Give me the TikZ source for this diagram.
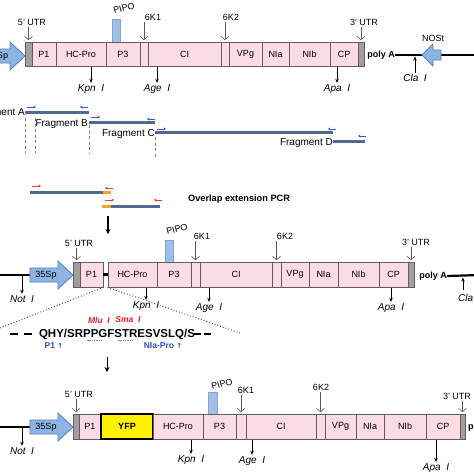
\documentclass[tikz,border=0pt]{standalone}
\usepackage{fontspec}
\setmainfont{Liberation Sans}
\newfontfamily\symfont{DejaVu Sans}
\usetikzlibrary{arrows.meta}
\definecolor{pinkbox}{RGB}{250,220,226}
\definecolor{boxline}{RGB}{105,88,92}
\definecolor{utrgray}{RGB}{160,160,160}
\definecolor{promblue}{RGB}{141,180,226}
\definecolor{promedge}{RGB}{79,129,189}
\definecolor{fragblue}{RGB}{80,105,145}
\definecolor{primerblue}{RGB}{60,90,200}
\definecolor{primerred}{RGB}{230,60,40}
\definecolor{ovorange}{RGB}{240,165,50}
\definecolor{seqred}{RGB}{225,30,30}
\definecolor{seqblue}{RGB}{50,80,180}
\newcommand\genebox[7][]{%
  \node[segbox,#1,minimum width={#4-#3},minimum height={#6-#5}] (#2) at ({(#3+#4)/2},{(#5+#6)/2}) {#7};}
\newcommand\promoter[5][2]{%
  \draw[promo] (#3,#5-7) -- (#4-15,#5-7) -- (#4-15,#5-14) -- (#4,#5) -- (#4-15,#5+14) -- (#4-15,#5+7) -- (#3,#5+7) -- cycle;
  \node[prtext] (#2) at ({(#3+#4-15)/2+#1},#5) {35Sp};}
\begin{document}
\begin{tikzpicture}[x=1pt,y=-1pt,
  segbox/.style={draw=boxline,line width=0.7pt,fill=pinkbox,inner sep=0pt,font=\fontsize{9}{10}\selectfont},
  utrbox/.style={fill=utrgray},
  yfpbox/.style={fill=yellow,draw=black,line width=1.2pt,font=\bfseries\fontsize{9}{10}\selectfont},
  pipobox/.style={draw=promedge!70,line width=0.4pt,fill=promblue!85,inner sep=0pt},
  tagtext/.style={inner sep=0pt,font=\fontsize{9}{10}\selectfont},
  tagarrow/.style={draw=black!65,line width=0.6pt,-{Straight Barb[length=3.5pt,width=8pt]},shorten <=2pt,shorten >=1.5pt},
  cuttext/.style={inner sep=0pt,font=\itshape\fontsize{10}{11}\selectfont},
  cutarrow/.style={draw=black,line width=0.7pt,-{Stealth[length=4pt,width=3.5pt]},shorten <=1pt,shorten >=1.5pt},
  backbone/.style={draw=black,line width=2.2pt},
  promo/.style={draw=promedge,line width=0.8pt,fill=promblue},
  prtext/.style={inner sep=0pt,font=\fontsize{9}{10}\selectfont},
  polytext/.style={inner sep=0pt,font=\bfseries\fontsize{9}{10}\selectfont},
  fragbar/.style={draw=fragblue,line width=3pt},
  orbar/.style={draw=ovorange,line width=3pt},
  fragtext/.style={inner sep=0pt,font=\fontsize{10}{11}\selectfont},
  guide/.style={draw=black!50,line width=1pt,dash pattern=on 3pt off 2.5pt},
  primerB/.style={draw=primerblue,line width=0.8pt,-{Stealth[length=2.5pt,width=3pt]}},
  primerR/.style={draw=primerred,line width=0.8pt,-{Stealth[length=2.5pt,width=3pt]}},
  bigarrow/.style={draw=black,line width=1.1pt,-{Stealth[length=5pt,width=5pt]}},
  zoomline/.style={draw=black!75,line width=0.9pt,dotted},
  seqdash/.style={draw=black,line width=2.5pt},
  siteline/.style={draw=black!45,line width=0.8pt,dash pattern=on 1.5pt off 0.8pt},
  enzred/.style={inner sep=0pt,text=seqred,font=\bfseries\itshape\fontsize{8.5}{9}\selectfont},
  cleave/.style={inner sep=0pt,text=seqblue,font=\bfseries\fontsize{8.5}{9}\selectfont}
]
\useasboundingbox (0,0) rectangle (474,474);
\clip (0,0) rectangle (474,474);
\fill[white] (0,0) rectangle (474,474);

% ================= construct 1 =================
\node[pipobox,minimum width=8,minimum height=23] (pipoA) at (116,31) {};
\node[tagtext,rotate=15] (pipoAt) at (124,8) {PIPO};
\promoter[5]{prA}{-25}{25}{56}
\genebox[utrbox]{uA}{25}{32}{42}{66}{}
\genebox{p1A}{32}{56}{42}{66}{P1}
\genebox{hcA}{56}{106}{42}{66}{HC-Pro}
\genebox{p3A}{106}{140}{42}{66}{P3}
\genebox{k1A}{140}{148}{42}{66}{}
\genebox{ciA}{148}{221}{42}{66}{CI}
\genebox{k2A}{221}{229}{42}{66}{}
\genebox{vpgA}{229}{262}{42}{66}{VPg}
\genebox{niaA}{262}{289}{42}{66}{NIa}
\genebox{nibA}{289}{330}{42}{66}{NIb}
\genebox{cpA}{330}{358}{42}{66}{CP}
\genebox[utrbox]{u3A}{358}{364}{42}{66}{}
\node[tagtext] (t5A) at (32,22) {5' UTR};
\draw[tagarrow] (t5A.south -| uA.north) -- (uA.north);
\node[tagtext] (t6k1A) at (153,17) {6K1};
\draw[tagarrow] (t6k1A.south -| k1A.north) -- (k1A.north);
\node[tagtext] (t6k2A) at (231,17) {6K2};
\draw[tagarrow] (t6k2A.south -| k2A.north) -- (k2A.north);
\node[tagtext] (t3A) at (364,22) {3' UTR};
\draw[tagarrow] (t3A.south -| u3A.north) -- (u3A.north);
\node[cuttext] (kpnA) at (91,89) {Kpn\ \ I};
\draw[cutarrow] (hcA.south -| kpnA.north) -- (kpnA.north);
\node[cuttext] (ageA) at (157,89) {Age\ \ I};
\draw[cutarrow] (ciA.south -| ageA.north) -- (ageA.north);
\node[cuttext] (apaA) at (337,89) {Apa\ \ I};
\draw[cutarrow] (cpA.south -| apaA.north) -- (apaA.north);
\node[polytext] (paA) at (381,55) {poly A};
\coordinate (nosTipA) at (422,55);
\coordinate (nosTailA) at (441,55);
\draw[backbone] (paA.east) -- (nosTipA);
\draw[backbone] (nosTailA) -- (480,55);
\draw[promo] (441,50) -- (433,50) -- (433,44) -- (nosTipA) -- (433,66) -- (433,60) -- (441,60) -- cycle;
\node[tagtext] (nosA) at (433,38) {NOSt};
\node[cuttext] (claA) at (415,78) {Cla\ \ I};
\draw[cutarrow] (claA.north) -- (claA.north |- nosTipA);

% ================= fragments =================
\coordinate (fa1) at (25,112); \coordinate (fa2) at (89,112);
\coordinate (fb1) at (89,122); \coordinate (fb2) at (155,122);
\coordinate (fc1) at (155,132.5); \coordinate (fc2) at (333,132.5);
\coordinate (fd1) at (333,141); \coordinate (fd2) at (365,141);
\draw[fragbar] (fa1) -- (fa2);
\draw[fragbar] (fb1) -- (fb2);
\draw[fragbar] (fc1) -- (fc2);
\draw[fragbar] (fd1) -- (fd2);
\node[fragtext,anchor=east] (faT) at (25,113) {Fragment A};
\node[fragtext,anchor=east] (fbT) at (88,124) {Fragment B};
\node[fragtext,anchor=east] (fcT) at (155,134) {Fragment C};
\node[fragtext,anchor=east] (fdT) at (333,143) {Fragment D};
\draw[primerB] (27,107) -- (36,107);
\draw[primerB] (88,107) -- (80,107);
\draw[primerB] (91,117) -- (100,117);
\draw[primerB] (155,119) -- (147,119);
\draw[primerB] (157,129) -- (166,129);
\draw[primerB] (336,129) -- (328,129);
\draw[primerB] (366,136) -- (358,136);
\draw[guide] (25,118) -- (25,153);
\draw[guide] (35,118) -- (35,153);
\draw[guide] (89,125) -- (89,153);
\draw[guide] (155,137) -- (155,157);

% ================= overlap PCR =================
\coordinate (o1a) at (30,192); \coordinate (o1b) at (103,192); \coordinate (o1c) at (111,192);
\coordinate (o2a) at (102,206); \coordinate (o2b) at (111,206); \coordinate (o2c) at (160,206);
\draw[fragbar] (o1a) -- (o1b);
\draw[orbar] (o1b) -- (o1c);
\draw[orbar] (o2a) -- (o2b);
\draw[fragbar] (o2b) -- (o2c);
\draw[primerR] (32,186) -- (41,186);
\draw[primerR] (113,188) -- (105,188);
\draw[primerR] (105,200) -- (114,200);
\draw[primerR] (162,200) -- (154,200);
\node[anchor=west,inner sep=0pt,font=\bfseries\fontsize{9.2}{10}\selectfont] (ovl) at (188,199) {Overlap extension PCR};
\coordinate (dn1) at (108,216); \coordinate (dn2) at (108,234);
\draw[bigarrow] (dn1) -- (dn2);

% ================= construct 2 =================
\coordinate (bbB) at (-5,275);
\coordinate (bbB2) at (40,275);
\draw[backbone] (bbB) -- (bbB2);
\node[pipobox,minimum width=8,minimum height=22] (pipoB) at (169,251) {};
\node[tagtext,rotate=15] (pipoBt) at (177,229) {PIPO};
\promoter{prB}{30}{73}{275}
\genebox[utrbox]{uB}{73}{80}{262}{287}{}
\genebox{p1B}{80}{103}{262}{287}{P1}
\genebox{hcB}{108}{157}{262}{287}{HC-Pro}
\draw[backbone] (p1B.east) -- (hcB.west);
\genebox{p3B}{157}{191}{262}{287}{P3}
\genebox{k1B}{191}{200}{262}{287}{}
\genebox{ciB}{200}{272}{262}{287}{CI}
\genebox{k2B}{272}{281}{262}{287}{}
\genebox{vpgB}{281}{309}{262}{287}{VPg}
\genebox{niaB}{309}{338}{262}{287}{NIa}
\genebox{nibB}{338}{379}{262}{287}{NIb}
\genebox{cpB}{379}{408}{262}{287}{CP}
\genebox[utrbox]{u3B}{408}{414}{262}{287}{}
\node[tagtext] (t5B) at (79,243) {5' UTR};
\draw[tagarrow] (t5B.south -| uB.north) -- (uB.north);
\node[tagtext] (t6k1B) at (202,236) {6K1};
\draw[tagarrow] (t6k1B.south -| k1B.north) -- (k1B.north);
\node[tagtext] (t6k2B) at (285,236) {6K2};
\draw[tagarrow] (t6k2B.south -| k2B.north) -- (k2B.north);
\node[tagtext] (t3B) at (416,242) {3' UTR};
\draw[tagarrow] (t3B.south -| u3B.north) -- (u3B.north);
\node[polytext] (paB) at (433,276) {poly A};
\coordinate (bbB3) at (480,275);
\draw[backbone] (paB.east) -- (bbB3);
\node[cuttext,anchor=west] (claB) at (458,298) {Cla\ \ I};
\coordinate (claBx) at (463,291);
\draw[cutarrow] (claBx) -- (claBx |- paB);
\node[cuttext] (notB) at (22,299) {Not\ \ I};
\draw[cutarrow] (notB.north |- bbB) -- (notB.north);
\node[cuttext] (kpnB) at (146,306) {Kpn\ \ I};
\draw[cutarrow] (hcB.south -| kpnB.north) -- (kpnB.north);
\node[cuttext] (ageB) at (209,308) {Age\ \ I};
\draw[cutarrow] (ciB.south -| ageB.north) -- (ageB.north);
\node[cuttext] (apaB) at (391,308) {Apa\ \ I};
\draw[cutarrow] (cpB.south -| apaB.north) -- (apaB.north);
\coordinate (zl) at (0,328);
\coordinate (zr) at (240,333);
\draw[zoomline] (p1B.south east) -- (zl);
\draw[zoomline] (hcB.south west) -- (zr);

% ================= sequence detail =================
\node[inner sep=0pt,font=\bfseries\fontsize{11.5}{13}\selectfont] (seq) at (117,334) {QHY/SRPPGFSTRESVSLQ/S};
\coordinate (sdl1) at (10,334); \coordinate (sdl2) at (32,334);
\coordinate (sdr1) at (194,334); \coordinate (sdr2) at (211,334);
\draw[seqdash,dash pattern=on 8pt off 6pt] (sdl1) -- (sdl2);
\draw[seqdash,dash pattern=on 7pt off 3pt] (sdr1) -- (sdr2);
\draw[siteline] (87,340) -- (102,340);
\draw[siteline] (118,340) -- (132,340);
\node[enzred] (mlu) at (99,320) {Mlu\ \ I};
\node[enzred] (sma) at (128,320) {Sma\ \ I};
\node[cleave] (cutP1) at (54,346) {P1 {\symfont\fontsize{7}{8}\selectfont ↑}};
\node[cleave] (cutNIa) at (163,346) {NIa-Pro {\symfont\fontsize{7}{8}\selectfont ↑}};
\coordinate (dn3) at (107,357); \coordinate (dn4) at (107,372);
\draw[bigarrow,line width=0.9pt] (dn3) -- (dn4);

% ================= construct 3 =================
\coordinate (bbC) at (-5,427);
\coordinate (bbC2) at (40,427);
\draw[backbone] (bbC) -- (bbC2);
\node[pipobox,minimum width=9,minimum height=22] (pipoC) at (212.5,403) {};
\node[tagtext,rotate=15] (pipoCt) at (222,384) {PIPO};
\promoter{prC}{30}{73}{427}
\genebox[utrbox]{uC}{73}{79}{414}{439}{}
\genebox{p1C}{79}{101}{414}{439}{P1}
\genebox[yfpbox]{yfpC}{101}{153}{414}{439}{YFP}
\genebox{hcC}{153}{203}{414}{439}{HC-Pro}
\genebox{p3C}{203}{236}{414}{439}{P3}
\genebox{k1C}{236}{246}{414}{439}{}
\genebox{ciC}{246}{316}{414}{439}{CI}
\genebox{k2C}{316}{325}{414}{439}{}
\genebox{vpgC}{325}{356}{414}{439}{VPg}
\genebox{niaC}{356}{384}{414}{439}{NIa}
\genebox{nibC}{384}{426}{414}{439}{NIb}
\genebox{cpC}{426}{460}{414}{439}{CP}
\genebox[utrbox]{u3C}{460}{465}{414}{439}{}
\node[tagtext] (t5C) at (79,394) {5' UTR};
\draw[tagarrow] (t5C.south -| uC.north) -- (uC.north);
\node[tagtext] (t6k1C) at (246,390) {6K1};
\draw[tagarrow] (t6k1C.south -| k1C.north) -- (k1C.north);
\node[tagtext] (t6k2C) at (321,387) {6K2};
\draw[tagarrow] (t6k2C.south -| k2C.north) -- (k2C.north);
\node[tagtext] (t3C) at (457,396) {3' UTR};
\draw[tagarrow] (t3C.south -| u3C.north) -- (u3C.north);
\node[polytext,anchor=west] (paC) at (468,427) {poly A};
\node[cuttext] (notC) at (22,451) {Not\ \ I};
\draw[cutarrow] (notC.north |- bbC) -- (notC.north);
\node[cuttext] (kpnC) at (191,460) {Kpn\ \ I};
\draw[cutarrow] (hcC.south -| kpnC.north) -- (kpnC.north);
\node[cuttext] (ageC) at (252,461) {Age\ \ I};
\draw[cutarrow] (ciC.south -| ageC.north) -- (ageC.north);
\node[cuttext] (apaC) at (436,468) {Apa\ \ I};
\draw[cutarrow] (cpC.south -| apaC.north) -- (apaC.north);
\end{tikzpicture}
\end{document}
